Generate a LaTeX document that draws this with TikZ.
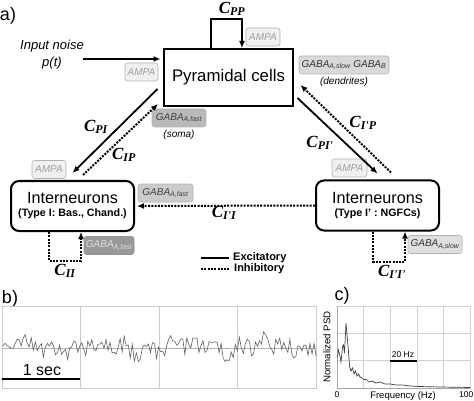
\documentclass[tikz,border=0pt]{standalone}
\usepackage{fontspec}
\setmainfont{Liberation Sans}
\newfontfamily\timesfont{Liberation Serif}
\usetikzlibrary{arrows.meta,positioning}

\tikzset{
  cell/.style={draw, line width=2pt, minimum width=123pt, minimum height=50pt,
    rounded corners=8pt, align=center, inner sep=0pt},
  exc/.style={line width=1.8pt, -{Latex[length=7pt,width=6pt]}},
  inh/.style={line width=2pt, dash pattern=on 2pt off 1.3pt, -{Latex[length=7pt,width=6pt]}},
  syn/.style={draw=gray!60, rounded corners=2.5pt, line width=0.6pt, inner sep=1pt,
    minimum height=18pt, font=\fontsize{10}{10}\selectfont\itshape},
  clab/.style={font=\fontsize{17}{17}\timesfont\bfseries\itshape\selectfont, inner sep=0pt},
  note/.style={font=\fontsize{10}{10}\selectfont\itshape, inner sep=0pt},
  legtext/.style={font=\fontsize{11}{11}\selectfont\bfseries, inner sep=0pt, anchor=west},
}

\begin{document}
\begin{tikzpicture}[x=1pt,y=-1pt]
\useasboundingbox (0,0) rectangle (474,401);

%panel a
\node[inner sep=0pt, font=\fontsize{18}{18}\selectfont] (laba) at (8,16) {a)};

%the three populations
\node[draw, line width=2pt, minimum width=129pt, minimum height=57pt, inner sep=0pt,
  font=\fontsize{16.8}{16.8}\selectfont] (pyr) at (228.5,77.5) {Pyramidal cells};
\node[cell] (inI) at (72.5,206) {\fontsize{16.2}{19}\selectfont Interneurons\\[1pt]
  \fontsize{10.7}{12}\selectfont\bfseries (Type I: Bas., Chand.)};
\node[cell] (inIp) at (377.5,205.5) {\fontsize{16.2}{19}\selectfont Interneurons\\[1pt]
  \fontsize{10.7}{12}\selectfont\bfseries (Type I' : NGFCs)};

%input
\node[align=center, inner sep=0pt, font=\fontsize{13}{17}\selectfont\itshape] (noise) at (52,55) {Input noise\\p(t)};
\draw[exc] (83,59) coordinate (noisestart) -- (noisestart -| pyr.west) [shorten >=2.5pt];

%synapse labels
\node[syn, fill=gray!12, text=gray!75, minimum width=34pt] (ampaPP) at (263,37) {AMPA};
\node[syn, fill=gray!12, text=gray!75, minimum width=33pt] (ampaIn) at (141.5,72) {AMPA};
\node[syn, fill=gray!55, text=black!75, minimum width=54pt] (gabaSoma) at (179,118) {GABA\textsubscript{A,fast}};
\node[note, below=3pt of gabaSoma] (soma) {(soma)};
\node[syn, fill=gray!30, text=black!80, minimum width=90pt] (gabaDend) at (344,65) {GABA\textsubscript{A,slow} GABA\textsubscript{B}};
\node[note, below=3pt of gabaDend] (dend) {(dendrites)};
\node[syn, fill=gray!12, text=gray!75, minimum width=34pt] (ampaI) at (49,169.5) {AMPA};
\node[syn, fill=gray!40, text=black!75, minimum width=55pt] (gabaIfast) at (165.5,193) {GABA\textsubscript{A,fast}};
\node[syn, fill=gray!80, draw=gray!85, text=gray!25, minimum width=50pt] (gabaII) at (109,245.5) {GABA\textsubscript{A,fast}};
\node[syn, fill=gray!12, text=gray!75, minimum width=35pt] (ampaIp) at (349.5,168) {AMPA};
\node[syn, fill=gray!25, text=black!80, minimum width=54pt] (gabaIpIp) at (435,244.5) {GABA\textsubscript{A,slow}};

%connections
\draw[exc] ([xshift=-17.5pt]pyr.north) -- ++(0,-29) -| ([xshift=13.5pt]pyr.north);
\draw[exc] ([xshift=-5.5pt,yshift=18pt]pyr.south west) -- ([yshift=7pt]inI.north);
\draw[inh] ([xshift=10.5pt,yshift=5pt]inI.north) -- ([xshift=-5pt,yshift=3pt]pyr.south west);
\draw[exc] ([xshift=3.5pt,yshift=9pt]pyr.south east) -- ([yshift=6pt]inIp.north);
\draw[inh] ([xshift=13.5pt,yshift=7pt]inIp.north) -- ([xshift=6.5pt,yshift=-7.5pt]pyr.east);
\draw[inh, shorten >=2pt] (inIp.west) -- (inI.east);
\draw[inh] ([xshift=-23.5pt]inI.south) -- ++(0,29) -| ([xshift=8.5pt]inI.south);
\draw[inh] ([xshift=-4.5pt]inIp.south) -- ++(0,30) -| ([xshift=27.5pt]inIp.south);

%coupling constants
\node[clab] (cPP) at (232,9) {C\textsubscript{PP}};
\node[clab] (cPI) at (96,127) {C\textsubscript{PI}};
\node[clab] (cIP) at (124,155) {C\textsubscript{IP}};
\node[clab] (cIpP) at (363,123) {C\textsubscript{I'P}};
\node[clab] (cPIp) at (320,143) {C\textsubscript{PI'}};
\node[clab] (cIpI) at (224,213) {C\textsubscript{I'I}};
\node[clab] (cII) at (65,271) {C\textsubscript{II}};
\node[clab] (cIpIp) at (392,272) {C\textsubscript{I'I'}};

%legend
\draw[line width=1.8pt] (201,258) -- (229,258);
\node[legtext] (lexc) at (233,258) {Excitatory};
\draw[line width=2pt, dash pattern=on 2pt off 1.3pt] (201,269) -- (230,269);
\node[legtext] (linh) at (234,269) {Inhibitory};

%panel b
\node[inner sep=0pt, font=\fontsize{18}{18}\selectfont] (labb) at (10,299) {b)};
\draw[gray!40, line width=0.6pt] (2,306) rectangle (316,388);
\foreach \gx in {80,159,237} \draw[gray!40, line width=0.6pt] (\gx,306) -- (\gx,388);
\draw[gray!60, line width=0.6pt] (2,348) -- (316,348);
\pgfmathsetseed{11}
\draw[gray!75!black, line width=0.6pt] (3,346)
  \foreach \k in {1,...,155} { -- ({3+\k*2.02},{347-9*rand-4*sin(\k*9)-3*sin(\k*31+40)}) };
\draw[line width=1.5pt] (2,379) -- (80,379);
\node[inner sep=0pt, font=\fontsize{16}{16}\selectfont] (sec) at (42,370) {1 sec};

%panel c
\node[inner sep=0pt, font=\fontsize{18}{18}\selectfont] (labc) at (342,296) {c)};
\draw[gray!35, line width=0.6pt] (337,306) rectangle (470,388);
\foreach \gx in {363.6,390.2,416.8,443.4} \draw[gray!35, line width=0.6pt] (\gx,306) -- (\gx,388);
\foreach \gy in {333.3,360.7} \draw[gray!35, line width=0.6pt] (337,\gy) -- (470,\gy);
\draw[gray!70, line width=0.7pt] (337,306) -- (337,388) -- (470,388);
\draw[black!75, line width=0.7pt] (337.5,357) -- (338.5,350) -- (340,356) -- (341,362) -- (342.5,347)
  -- (343.5,345) -- (344.5,353) -- (346,323) -- (347.5,340) -- (348.5,352) -- (349.5,366)
  -- (351,371) -- (352.5,368) -- (354,374) -- (355.5,371) -- (357,376) -- (358.5,374)
  -- (360,377) -- (362,378) -- (364,380) -- (366,379) -- (369,382) -- (372,381) -- (376,383)
  -- (380,382) -- (385,384) -- (390,384) -- (396,385) -- (402,385) -- (410,386) -- (420,386.5)
  -- (440,387) -- (470,387.5);
\draw[line width=1.5pt] (390.2,361) -- (416.8,361);
\node[inner sep=0pt, font=\fontsize{8.5}{8.5}\selectfont] (hz) at (403,355) {20 Hz};
\node[inner sep=0pt, rotate=90, font=\fontsize{9.7}{9.7}\selectfont] (psd) at (327,347) {Normalized PSD};
\node[inner sep=0pt, font=\fontsize{9.5}{9.5}\selectfont] (freq) at (403,396) {Frequency (Hz)};
\node[inner sep=0pt, font=\fontsize{8.5}{8.5}\selectfont] (f0) at (337,395) {0};
\node[inner sep=0pt, font=\fontsize{8.5}{8.5}\selectfont, anchor=east] (f100) at (473.5,395) {100};

\end{tikzpicture}
\end{document}
